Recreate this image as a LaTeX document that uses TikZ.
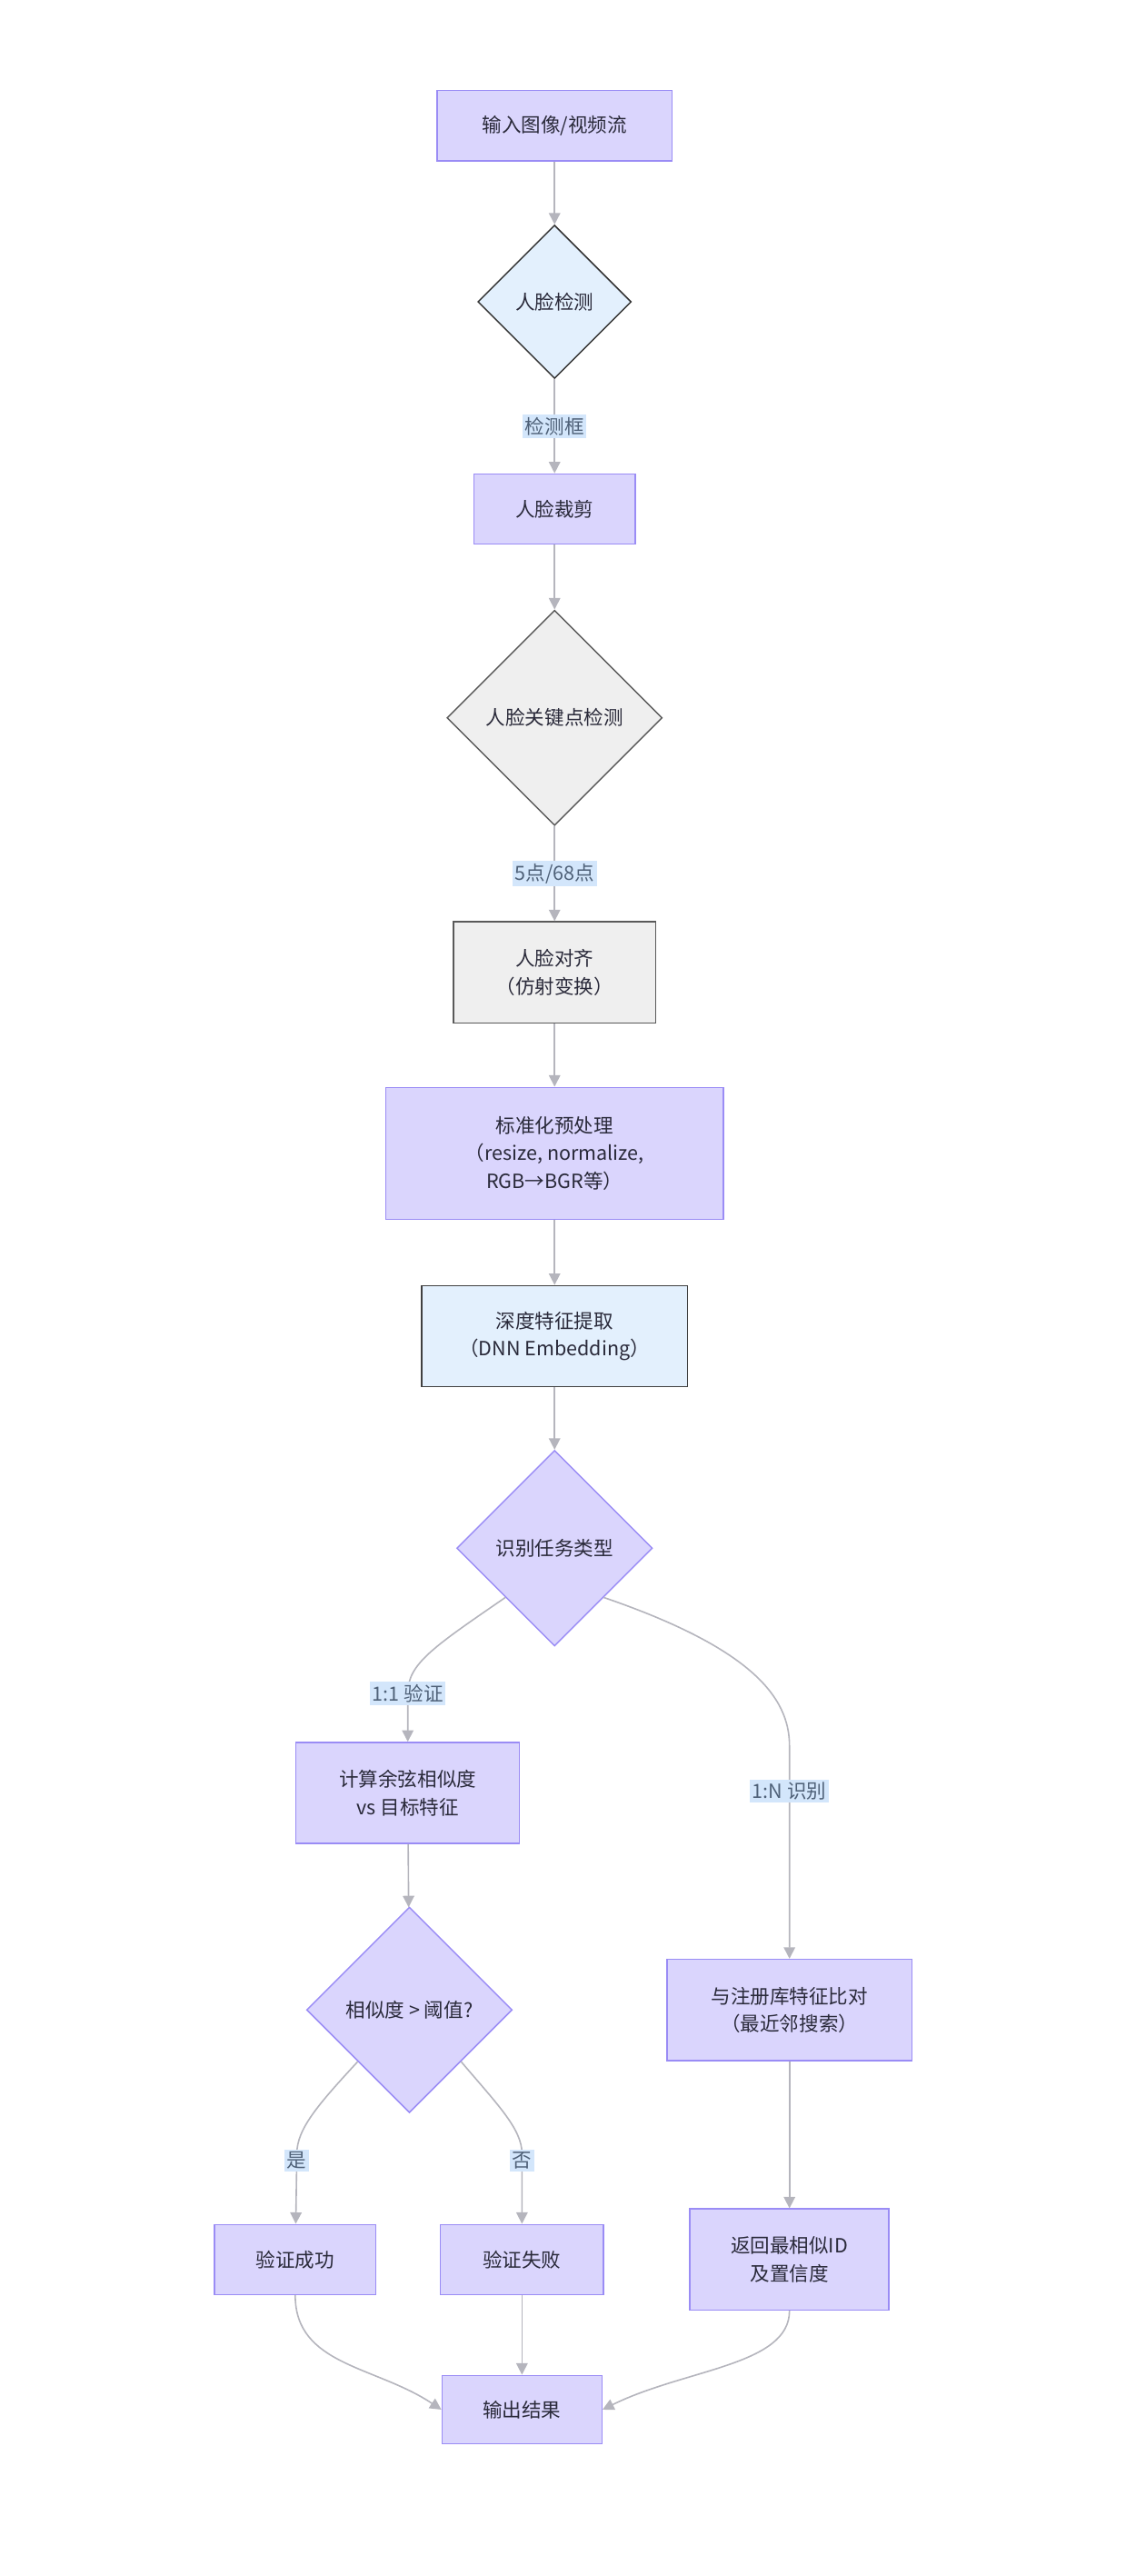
\documentclass[tikz,border=0pt]{standalone}
\usepackage{fontspec}
\setmainfont{Noto Sans CJK SC}
\usetikzlibrary{shapes.geometric,arrows.meta}
\definecolor{pf}{HTML}{DAD5FD}
\definecolor{ps}{HTML}{9A8CF5}
\definecolor{bf}{HTML}{E3F0FD}
\definecolor{gf}{HTML}{EFEFEF}
\definecolor{lb}{HTML}{D3E6FB}
\definecolor{lt}{HTML}{4F6178}
\definecolor{ln}{HTML}{B5B5BD}
\definecolor{tx}{HTML}{2A2A3A}
\begin{document}
\begin{tikzpicture}[x=1pt,y=-1pt,font=\fontsize{12}{17}\selectfont,text=tx,
 box/.style={draw=ps,fill=pf,line width=0.8pt,minimum width=#1,align=center,inner sep=0pt},
 dia/.style={diamond,draw=ps,fill=pf,line width=0.8pt,minimum width=#1,minimum height=#1,align=center,inner sep=0pt,aspect=1},
 lab/.style={fill=lb,text=lt,inner sep=1.5pt},
 ar/.style={draw=ln,line width=0.9pt,-{Triangle[length=7pt,width=7pt]}}]
\useasboundingbox (0,0) rectangle (690,1579);
\node[box=144pt,minimum height=43pt] (in) at (340,77) {输入图像/视频流};
\node[dia=94pt,fill=bf,draw=black!80] (det) at (340,185) {人脸检测};
\node[box=99pt,minimum height=43pt] (crop) at (340,312) {人脸裁剪};
\node[dia=132pt,fill=gf,draw=black!65] (lm) at (340,440) {人脸关键点检测};
\node[box=124pt,minimum height=62pt,fill=gf,draw=black!65] (al) at (340,596) {人脸对齐\\（仿射变换）};
\node[box=207pt,minimum height=81pt] (pre) at (340,707) {标准化预处理\\（resize, normalize,\\RGB→BGR等）};
\node[box=163pt,minimum height=62pt,fill=bf,draw=black!75] (feat) at (340,819) {深度特征提取\\（DNN Embedding）};
\node[dia=120pt] (task) at (340,949) {识别任务类型};
\node[box=137pt,minimum height=62pt] (cos) at (250,1099) {计算余弦相似度\\vs 目标特征};
\node[dia=126pt] (sim) at (251,1232) {相似度 > 阈值?};
\node[box=99pt,minimum height=43pt] (ok) at (181,1385) {验证成功};
\node[box=100pt,minimum height=43pt] (fail) at (320,1385) {验证失败};
\node[box=150pt,minimum height=62pt] (cmp) at (484,1232) {与注册库特征比对\\（最近邻搜索）};
\node[box=122pt,minimum height=62pt] (ret) at (484,1385) {返回最相似ID\\及置信度};
\node[box=98pt,minimum height=42pt] (out) at (320,1477) {输出结果};
\draw[ar] (in) -- (det);
\draw[ar] (det) -- node[lab]{检测框} (crop);
\draw[ar] (crop) -- (lm);
\draw[ar] (lm) -- node[lab]{5点/68点} (al);
\draw[ar] (al) -- (pre);
\draw[ar] (pre) -- (feat);
\draw[ar] (feat) -- (task);
\coordinate (c1) at (250,1038);
\draw[ar] (task.south west) .. controls (265,1010) and (250,1020) .. (c1) -- (cos);
\node[lab] at (c1) {1:1 验证};
\draw[ar] (task.south east) .. controls (460,1010) and (484,1040) .. (484,1070) -- (cmp);
\node[lab] at (484,1098) {1:N 识别};
\draw[ar] (cos) -- (sim);
\draw[ar] (sim.south west) .. controls (195,1290) and (182,1305) .. (182,1320) -- node[lab,pos=0.1]{是} (ok);
\draw[ar] (sim.south east) .. controls (305,1290) and (320,1305) .. (320,1320) -- node[lab,pos=0.1]{否} (fail);
\draw[ar] (cmp) -- (ret);
\draw[ar] (ok.south) .. controls (181,1450) and (230,1450) .. (out.west);
\draw[ar] (fail) -- (out);
\draw[ar] (ret.south) .. controls (484,1450) and (420,1452) .. (out.east);
\end{tikzpicture}
\end{document}
